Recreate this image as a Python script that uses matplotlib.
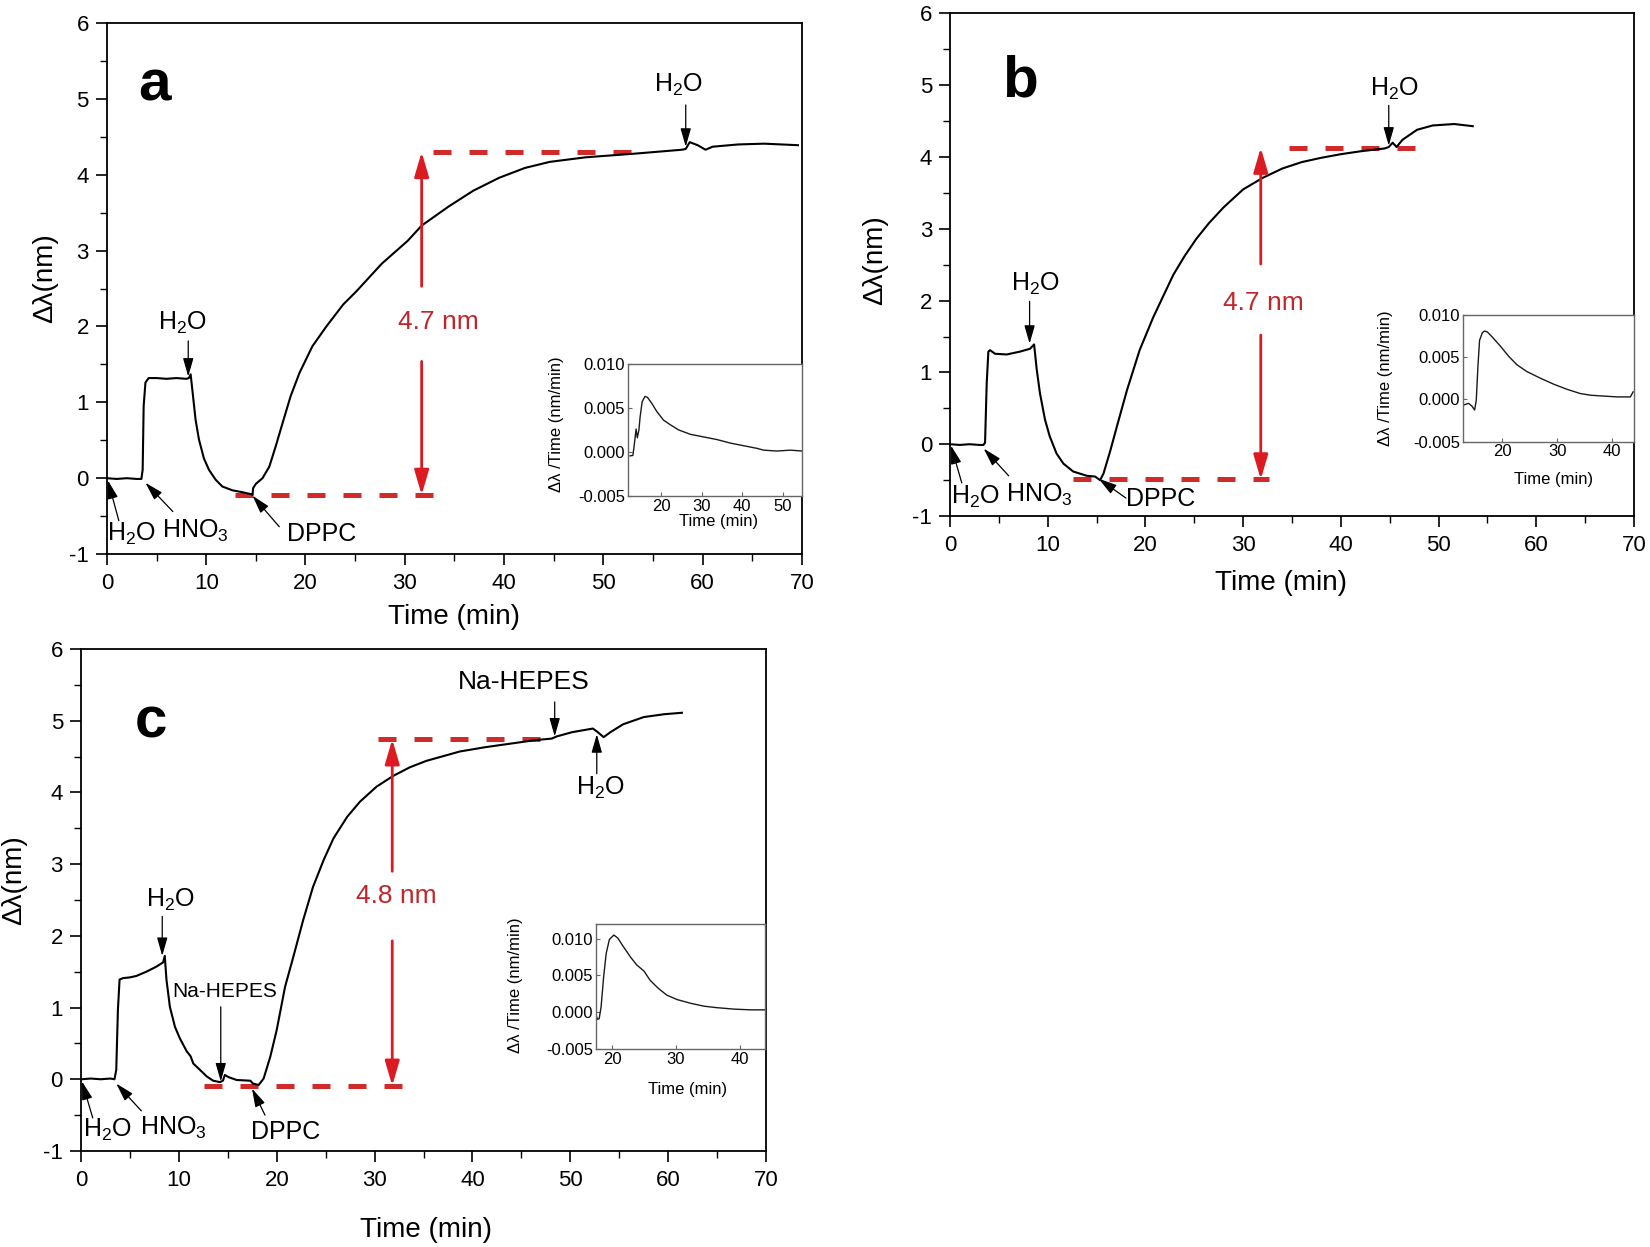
import matplotlib
matplotlib.use('Agg')
import matplotlib.pyplot as plt
from matplotlib.ticker import MultipleLocator, FormatStrFormatter, FixedLocator

plt.rcParams['font.family'] = ['Liberation Sans', 'DejaVu Sans']
plt.rcParams['mathtext.fontset'] = 'custom'
plt.rcParams['mathtext.rm'] = 'Liberation Sans'
plt.rcParams['mathtext.it'] = 'Liberation Sans:italic'
plt.rcParams['mathtext.bf'] = 'Liberation Sans:bold'
plt.rcParams['mathtext.default'] = 'regular'
plt.rcParams['axes.unicode_minus'] = False

# ---------------- data ----------------
time_a = [0, 1, 2, 3, 3.47, 3.6, 3.7, 3.88, 4.2, 5,
          6, 7, 8, 8.26, 8.43, 8.6, 8.93, 9.27, 9.77, 10.28,
          10.95, 11.63, 12.64, 13.65, 14.5, 14.66, 14.73, 15.0, 15.67, 16.35,
          17.0, 17.7, 18.5, 19.4, 20.7, 22.1, 23.8, 25.1, 27.7, 30.3,
          31.7, 34.4, 36.9, 39.5, 42.1, 44.6, 48.2, 53.3, 57.9, 58.3,
          58.7, 59.5, 60.3, 61.0, 63.6, 66.2, 69.6]
dl_a = [0, -0.01, 0, -0.01, -0.01, 0.11, 0.95, 1.26, 1.32, 1.32,
        1.31, 1.32, 1.31, 1.32, 1.37, 1.17, 0.77, 0.51, 0.26, 0.11,
        -0.02, -0.11, -0.16, -0.185, -0.21, -0.22, -0.13, -0.075, 0.0, 0.15,
        0.42, 0.73, 1.08, 1.39, 1.74, 2.0, 2.29, 2.46, 2.83, 3.13,
        3.33, 3.58, 3.79, 3.96, 4.09, 4.17, 4.23, 4.28, 4.33, 4.34,
        4.43, 4.39, 4.33, 4.37, 4.40, 4.41, 4.39]

time_b = [0, 1, 2, 3, 3.41, 3.58, 3.75, 3.92, 4.09, 4.6,
          5.8, 7.16, 8.19, 8.6, 8.87, 9.2, 9.72, 10.2, 10.9, 11.6,
          12.6, 14.0, 14.84, 15.35, 15.7, 16.4, 17.06, 18.1, 19.4, 20.8,
          22.85, 24.0, 25.2, 26.5, 28, 30, 32, 34, 36, 38,
          40, 42, 44.5, 44.9, 45.3, 45.7, 46.3, 47.8, 49.4, 51.6,
          53.5]
dl_b = [0, -0.01, 0, -0.01, -0.01, 0.02, 0.85, 1.29, 1.31, 1.26,
        1.25, 1.29, 1.33, 1.39, 1.04, 0.71, 0.34, 0.11, -0.13, -0.27,
        -0.38, -0.44, -0.45, -0.50, -0.41, -0.09, 0.24, 0.75, 1.31, 1.77,
        2.36, 2.62, 2.86, 3.08, 3.30, 3.55, 3.71, 3.84, 3.93, 3.99,
        4.04, 4.08, 4.12, 4.14, 4.20, 4.14, 4.24, 4.38, 4.44, 4.46,
        4.43]

time_c = [0, 1, 2, 3, 3.42, 3.6, 3.77, 3.94, 4.28, 4.97,
          5.65, 6.68, 7.7, 8.39, 8.56, 8.73, 9.08, 9.6, 10.1, 10.8,
          11.2, 11.47, 12.16, 12.84, 13.5, 14.2, 14.5, 14.7, 15.07, 15.9,
          17.3, 17.57, 18.15, 18.66, 19.35, 20.0, 20.85, 21.7, 22.7, 23.7,
          24.8, 25.8, 27.2, 28.5, 30.2, 31.9, 33.6, 35.3, 37.4, 38.7,
          41.3, 43.9, 46.5, 48.1, 48.6, 50.2, 52.3, 52.8, 53.4, 54.1,
          55.4, 57.5, 59.6, 61.4]
dl_c = [0, 0.01, 0, 0.01, 0.0, 0.13, 0.97, 1.39, 1.41, 1.42,
        1.44, 1.50, 1.57, 1.63, 1.72, 1.39, 1.01, 0.73, 0.57, 0.39,
        0.32, 0.22, 0.13, 0.04, -0.02, -0.04, -0.02, 0.06, 0.03, -0.01,
        -0.02, -0.06, -0.08, 0.01, 0.32, 0.69, 1.29, 1.71, 2.22, 2.68,
        3.06, 3.36, 3.66, 3.87, 4.08, 4.23, 4.35, 4.44, 4.52, 4.57,
        4.63, 4.68, 4.73, 4.75, 4.78, 4.84, 4.89, 4.84, 4.77, 4.84,
        4.95, 5.05, 5.09, 5.11]

# insets: d(delta lambda)/dt
ti_a = [12.3, 13.0, 13.3, 13.8, 14.1, 14.5, 14.8, 15.3, 16.0, 16.6, 17.7, 18.9, 20.6,
        22.2, 24.3, 27.2, 30.5, 33.8, 37.1, 40.4, 43.7, 45.3, 48.6, 51.9, 54.8]
rate_a = [-0.00045, -0.0004, 0.0006, 0.0026, 0.0016, 0.0025, 0.0040, 0.0057, 0.0063,
          0.0062, 0.0055, 0.0046, 0.0036, 0.0031, 0.0025, 0.0020, 0.0017, 0.0014,
          0.0010, 0.0007, 0.0004, 0.0002, 0.0001, 0.0002, 0.0001]

ti_b = [13.0, 13.9, 14.5, 15.0, 15.3, 15.6, 15.9, 16.4, 16.8, 17.3, 18.2, 19.7, 21.2,
        22.7, 24.5, 27.0, 29.4, 31.8, 34.2, 36.1, 38.5, 40.9, 43.3, 43.8]
rate_b = [-0.00066, -0.00046, -0.00078, -0.00125, -0.0001, 0.0039, 0.0070, 0.0079,
          0.0081, 0.0080, 0.0074, 0.0063, 0.0051, 0.0041, 0.0033, 0.0025, 0.0018,
          0.0012, 0.0007, 0.0005, 0.0004, 0.0003, 0.0003, 0.0009]

ti_c = [17.5, 17.75, 18.0, 18.3, 18.7, 19.1, 19.6, 20.3, 20.9, 21.8, 22.9, 23.9, 25.0,
        26.0, 27.3, 28.6, 30.2, 32.3, 34.4, 36.4, 39.1, 41.7, 44.0]
rate_c = [-0.00043, -0.0010, -0.0009, 0.0007, 0.0048, 0.0080, 0.0099, 0.0105, 0.0101,
          0.0089, 0.0075, 0.0064, 0.0056, 0.0043, 0.0032, 0.0023, 0.0017, 0.0012,
          0.0008, 0.0006, 0.0004, 0.0003, 0.0003]

# shift markers: [top level, bottom level], labels
levels_a = [4.30, -0.22]
levels_b = [4.13, -0.49]
levels_c = [4.74, -0.09]
shift_labels = ['4.7 nm', '4.7 nm', '4.8 nm']

main_xticks = [0, 10, 20, 30, 40, 50, 60, 70]
main_yticks = [-1, 0, 1, 2, 3, 4, 5, 6]
inset_yticks = [-0.005, 0.000, 0.005, 0.010]

# ---------------- styling ----------------
RED_DASH = '#d12a2a'
RED_ARROW = '#dc1a22'
RED_TEXT = '#c0262c'

fig = plt.figure(figsize=(16.5, 12.47), dpi=100)


def make_main(rect, t, y, letter, letter_xy, xlab_xy, ylab_xy):
    ax = fig.add_axes(rect)
    ax.plot(t, y, color='black', lw=1.5, zorder=3)
    ax.set_xlim(0, 70)
    ax.set_ylim(-1, 6)
    ax.xaxis.set_major_locator(FixedLocator(main_xticks))
    ax.xaxis.set_minor_locator(MultipleLocator(5))
    ax.yaxis.set_major_locator(FixedLocator(main_yticks))
    ax.yaxis.set_minor_locator(MultipleLocator(0.5))
    ax.tick_params(which='major', direction='out', length=8, width=1.2,
                   labelsize=16, pad=5)
    ax.tick_params(which='minor', direction='out', length=5, width=1.0)
    ax.tick_params(axis='x', which='major', pad=6)
    for s in ax.spines.values():
        s.set_linewidth(1.3)
    ax.set_xlabel('Time (min)', fontsize=20, va='center')
    ax.xaxis.set_label_coords(*xlab_xy)
    ax.set_ylabel('Δλ(nm)', fontsize=20, va='center')
    ax.yaxis.set_label_coords(*ylab_xy)
    ax.text(letter_xy[0], letter_xy[1], letter, fontsize=42, fontweight='bold',
            ha='center', va='center')
    return ax


def black_arrow(ax, head, tail):
    ax.annotate('', xy=head, xytext=tail,
                arrowprops=dict(arrowstyle='-|>,head_length=0.7,head_width=0.2',
                                color='black', lw=0.9, shrinkA=0, shrinkB=0,
                                mutation_scale=16), zorder=4)


def label(ax, x, y, s, size=18):
    ax.text(x, y, s, fontsize=size, ha='center', va='center', zorder=4)


def shift_marker(ax, levels, xarrow, top_span, bot_span, gap, text, text_xy):
    ax.hlines(levels[0], top_span[0], top_span[1], colors=RED_DASH, lw=3.6,
              linestyles=(0, (3.6, 3.6)), zorder=2)
    ax.hlines(levels[1], bot_span[0], bot_span[1], colors=RED_DASH, lw=3.6,
              linestyles=(0, (3.6, 3.6)), zorder=2)
    style = '-|>,head_length=0.75,head_width=0.22'
    ax.annotate('', xy=(xarrow, levels[0]), xytext=(xarrow, gap[1]),
                arrowprops=dict(arrowstyle=style, color=RED_ARROW, lw=2.0,
                                shrinkA=0, shrinkB=0, mutation_scale=20), zorder=3)
    ax.annotate('', xy=(xarrow, levels[1]), xytext=(xarrow, gap[0]),
                arrowprops=dict(arrowstyle=style, color=RED_ARROW, lw=2.0,
                                shrinkA=0, shrinkB=0, mutation_scale=20), zorder=3)
    ax.text(text_xy[0], text_xy[1], text, color=RED_TEXT, fontsize=19,
            ha='center', va='center')


def make_inset(rect, t, r, xlim, ylim, xticks, tsize, xlab_xy, ylab_xy):
    ax = fig.add_axes(rect)
    ax.set_facecolor('white')
    ax.plot(t, r, color='#1a1a1a', lw=1.0)
    ax.set_xlim(*xlim)
    ax.set_ylim(*ylim)
    ax.xaxis.set_major_locator(FixedLocator(xticks))
    ax.yaxis.set_major_locator(FixedLocator(inset_yticks))
    ax.yaxis.set_major_formatter(FormatStrFormatter('%.3f'))
    ax.tick_params(which='major', direction='in', length=3, width=0.8,
                   color='#666666', labelsize=tsize, pad=2)
    for s in ax.spines.values():
        s.set_linewidth(1.0)
        s.set_color('#666666')
    ax.set_xlabel('Time (min)', fontsize=tsize, va='center')
    ax.xaxis.set_label_coords(*xlab_xy)
    ax.set_ylabel('Δλ /Time (nm/min)', fontsize=tsize, va='center')
    ax.yaxis.set_label_coords(*ylab_xy)
    return ax


# ---------------- panel a ----------------
axa = make_main([0.0648, 0.5557, 0.4212, 0.4258], time_a, dl_a, 'a', (4.8, 5.18),
                (0.50, -0.119), (-0.089, 0.52))
shift_marker(axa, levels_a, 31.7, (32.8, 53.8), (12.9, 32.8), (1.54, 2.53),
             shift_labels[0], (33.4, 2.06))
black_arrow(axa, (0.1, -0.03), (1.2, -0.56))
label(axa, 2.5, -0.74, 'H$_2$O')
black_arrow(axa, (3.88, -0.06), (6.64, -0.44))
label(axa, 8.9, -0.70, 'HNO$_3$')
black_arrow(axa, (14.66, -0.23), (17.36, -0.64))
label(axa, 21.6, -0.74, 'DPPC')
black_arrow(axa, (8.19, 1.34), (8.19, 1.81))
label(axa, 7.65, 2.05, 'H$_2$O')
black_arrow(axa, (58.3, 4.37), (58.3, 4.92))
label(axa, 57.6, 5.18, 'H$_2$O')
make_inset([0.3806, 0.6023, 0.1055, 0.1059], ti_a, rate_a, (11.8, 54.8),
           (-0.005, 0.010), [20, 30, 40, 50], 12, (0.523, -0.195), (-0.41, 0.54))

# ---------------- panel b ----------------
axb = make_main([0.5758, 0.5862, 0.4145, 0.4030], time_b, dl_b, 'b', (7.2, 5.05),
                (0.484, -0.133), (-0.110, 0.51))
shift_marker(axb, levels_b, 31.8, (34.7, 47.6), (12.6, 32.6), (1.52, 2.51),
             shift_labels[1], (32.1, 1.97))
black_arrow(axb, (0.1, -0.02), (1.2, -0.54))
label(axb, 2.6, -0.73, 'H$_2$O')
black_arrow(axb, (3.44, -0.06), (6.0, -0.44))
label(axb, 9.1, -0.70, 'HNO$_3$')
black_arrow(axb, (15.2, -0.48), (18.0, -0.75))
label(axb, 21.6, -0.76, 'DPPC')
black_arrow(axb, (8.14, 1.40), (8.14, 1.99))
label(axb, 8.76, 2.24, 'H$_2$O')
black_arrow(axb, (44.9, 4.16), (44.9, 4.72))
label(axb, 45.5, 4.95, 'H$_2$O')
make_inset([0.8867, 0.6458, 0.1034, 0.1016], ti_b, rate_b, (12.9, 43.9),
           (-0.005, 0.010), [20, 30, 40], 12, (0.53, -0.30), (-0.457, 0.50))

# ---------------- panel c ----------------
axc = make_main([0.0491, 0.0770, 0.4152, 0.4026], time_c, dl_c, 'c', (7.1, 4.97),
                (0.504, -0.157), (-0.097, 0.54))
shift_marker(axc, levels_c, 31.8, (30.3, 47.8), (12.6, 33.0), (1.93, 2.90),
             shift_labels[2], (32.2, 2.56))
black_arrow(axc, (0.1, -0.03), (1.2, -0.54))
label(axc, 2.74, -0.71, 'H$_2$O')
black_arrow(axc, (3.6, -0.06), (6.16, -0.44))
label(axc, 9.4, -0.68, 'HNO$_3$')
black_arrow(axc, (17.47, -0.13), (18.8, -0.50))
label(axc, 20.9, -0.73, 'DPPC')
black_arrow(axc, (8.3, 1.72), (8.3, 2.27))
label(axc, 9.1, 2.5, 'H$_2$O')
black_arrow(axc, (14.28, -0.03), (14.28, 1.01))
label(axc, 14.7, 1.22, 'Na-HEPES', size=15)
black_arrow(axc, (48.4, 4.78), (48.4, 5.26))
label(axc, 45.2, 5.54, 'Na-HEPES', size=19)
black_arrow(axc, (52.7, 4.81), (52.7, 4.26))
label(axc, 53.1, 4.06, 'H$_2$O')
make_inset([0.3612, 0.1590, 0.1026, 0.1000], ti_c, rate_c, (17.5, 44.0),
           (-0.005, 0.012), [20, 30, 40], 12, (0.54, -0.33), (-0.478, 0.51))

fig.savefig('out.png', dpi=100, facecolor='white')
